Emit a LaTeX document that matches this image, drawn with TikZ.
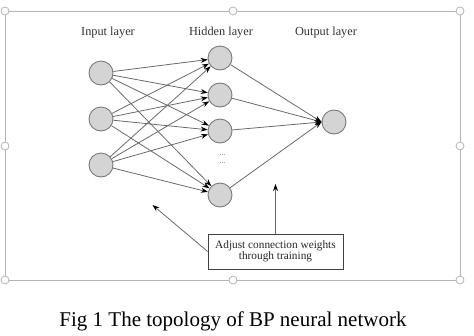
\documentclass[tikz,border=0pt]{standalone}
\usepackage{fontspec}
\setmainfont{Liberation Serif}
\usetikzlibrary{arrows.meta}
\definecolor{nodefill}{HTML}{D4D4D4}
\definecolor{nodeline}{HTML}{7A7A7A}
\definecolor{wire}{HTML}{6A6A6A}
\definecolor{framec}{HTML}{B4B4B4}
\tikzset{
  neuron/.style={circle,draw=nodeline,fill=nodefill,line width=0.9pt,minimum size=24pt,inner sep=0pt},
  conn/.style={draw=wire,line width=0.8pt,-{Stealth[length=7pt,width=5pt,black]}},
  handle/.style={circle,draw=framec,fill=white,line width=0.8pt,minimum size=8pt,inner sep=0pt},
  layerlabel/.style={font=\fontsize{12.3}{14}\selectfont,text=black!80,inner sep=0pt},
  dots/.style={font=\fontsize{8}{8}\selectfont,text=black!55,inner sep=0pt},
}
\begin{document}
\begin{tikzpicture}[x=1pt,y=-1pt]
\useasboundingbox (0,0) rectangle (474,335);
% selection frame
\draw[framec,line width=0.8pt] (5,11) rectangle (460,280);
\foreach \n/\p in {tl/{(5,11)},tm/{(233,11)},tr/{(460,11)},ml/{(5,146)},mr/{(460,146)},bl/{(5,280)},bm/{(233,280)},br/{(460,280)}}
  \node[handle] (h\n) at \p {};
% labels
\node[layerlabel] (lin) at (108,33) {Input layer};
\node[layerlabel] (lhid) at (221,33) {Hidden layer};
\node[layerlabel] (lout) at (326,33) {Output layer};
% neurons
\node[neuron] (i1) at (101,73) {};
\node[neuron] (i2) at (101,119) {};
\node[neuron] (i3) at (101,165) {};
\node[neuron] (n1) at (220,58) {};
\node[neuron] (n2) at (220,95) {};
\node[neuron] (n3) at (220,131) {};
\node[neuron] (n4) at (220,195) {};
\node[neuron] (o1) at (334,122) {};
\node[dots] (d1) at (222.5,155) {...};
\node[dots] (d2) at (222.5,163) {...};
% connections
\foreach \a in {i1,i2,i3}
  \foreach \b in {n1,n2,n3,n4}
    \draw[conn] (\a) -- (\b);
\foreach \b in {n1,n2,n3,n4}
  \draw[conn] (\b) -- (o1.west);
% training box
\node[draw=black!75,line width=0.7pt,minimum width=135pt,minimum height=35pt,inner sep=0pt,align=center,
      font=\fontsize{11.3}{11.2}\selectfont,text=black!85] (box) at (275.5,251.5)
      {Adjust connection weights\\ through training};
\coordinate (tipL) at (152.5,205);
\coordinate (tipU) at (275.5,184);
\draw[conn] (box.west) -- (tipL);
\draw[conn] (box.north) -- (tipU);
% caption
\node[font=\fontsize{21}{24}\selectfont,inner sep=0pt] (cap) at (233,321) {Fig 1 The topology of BP neural network};
\end{tikzpicture}
\end{document}
